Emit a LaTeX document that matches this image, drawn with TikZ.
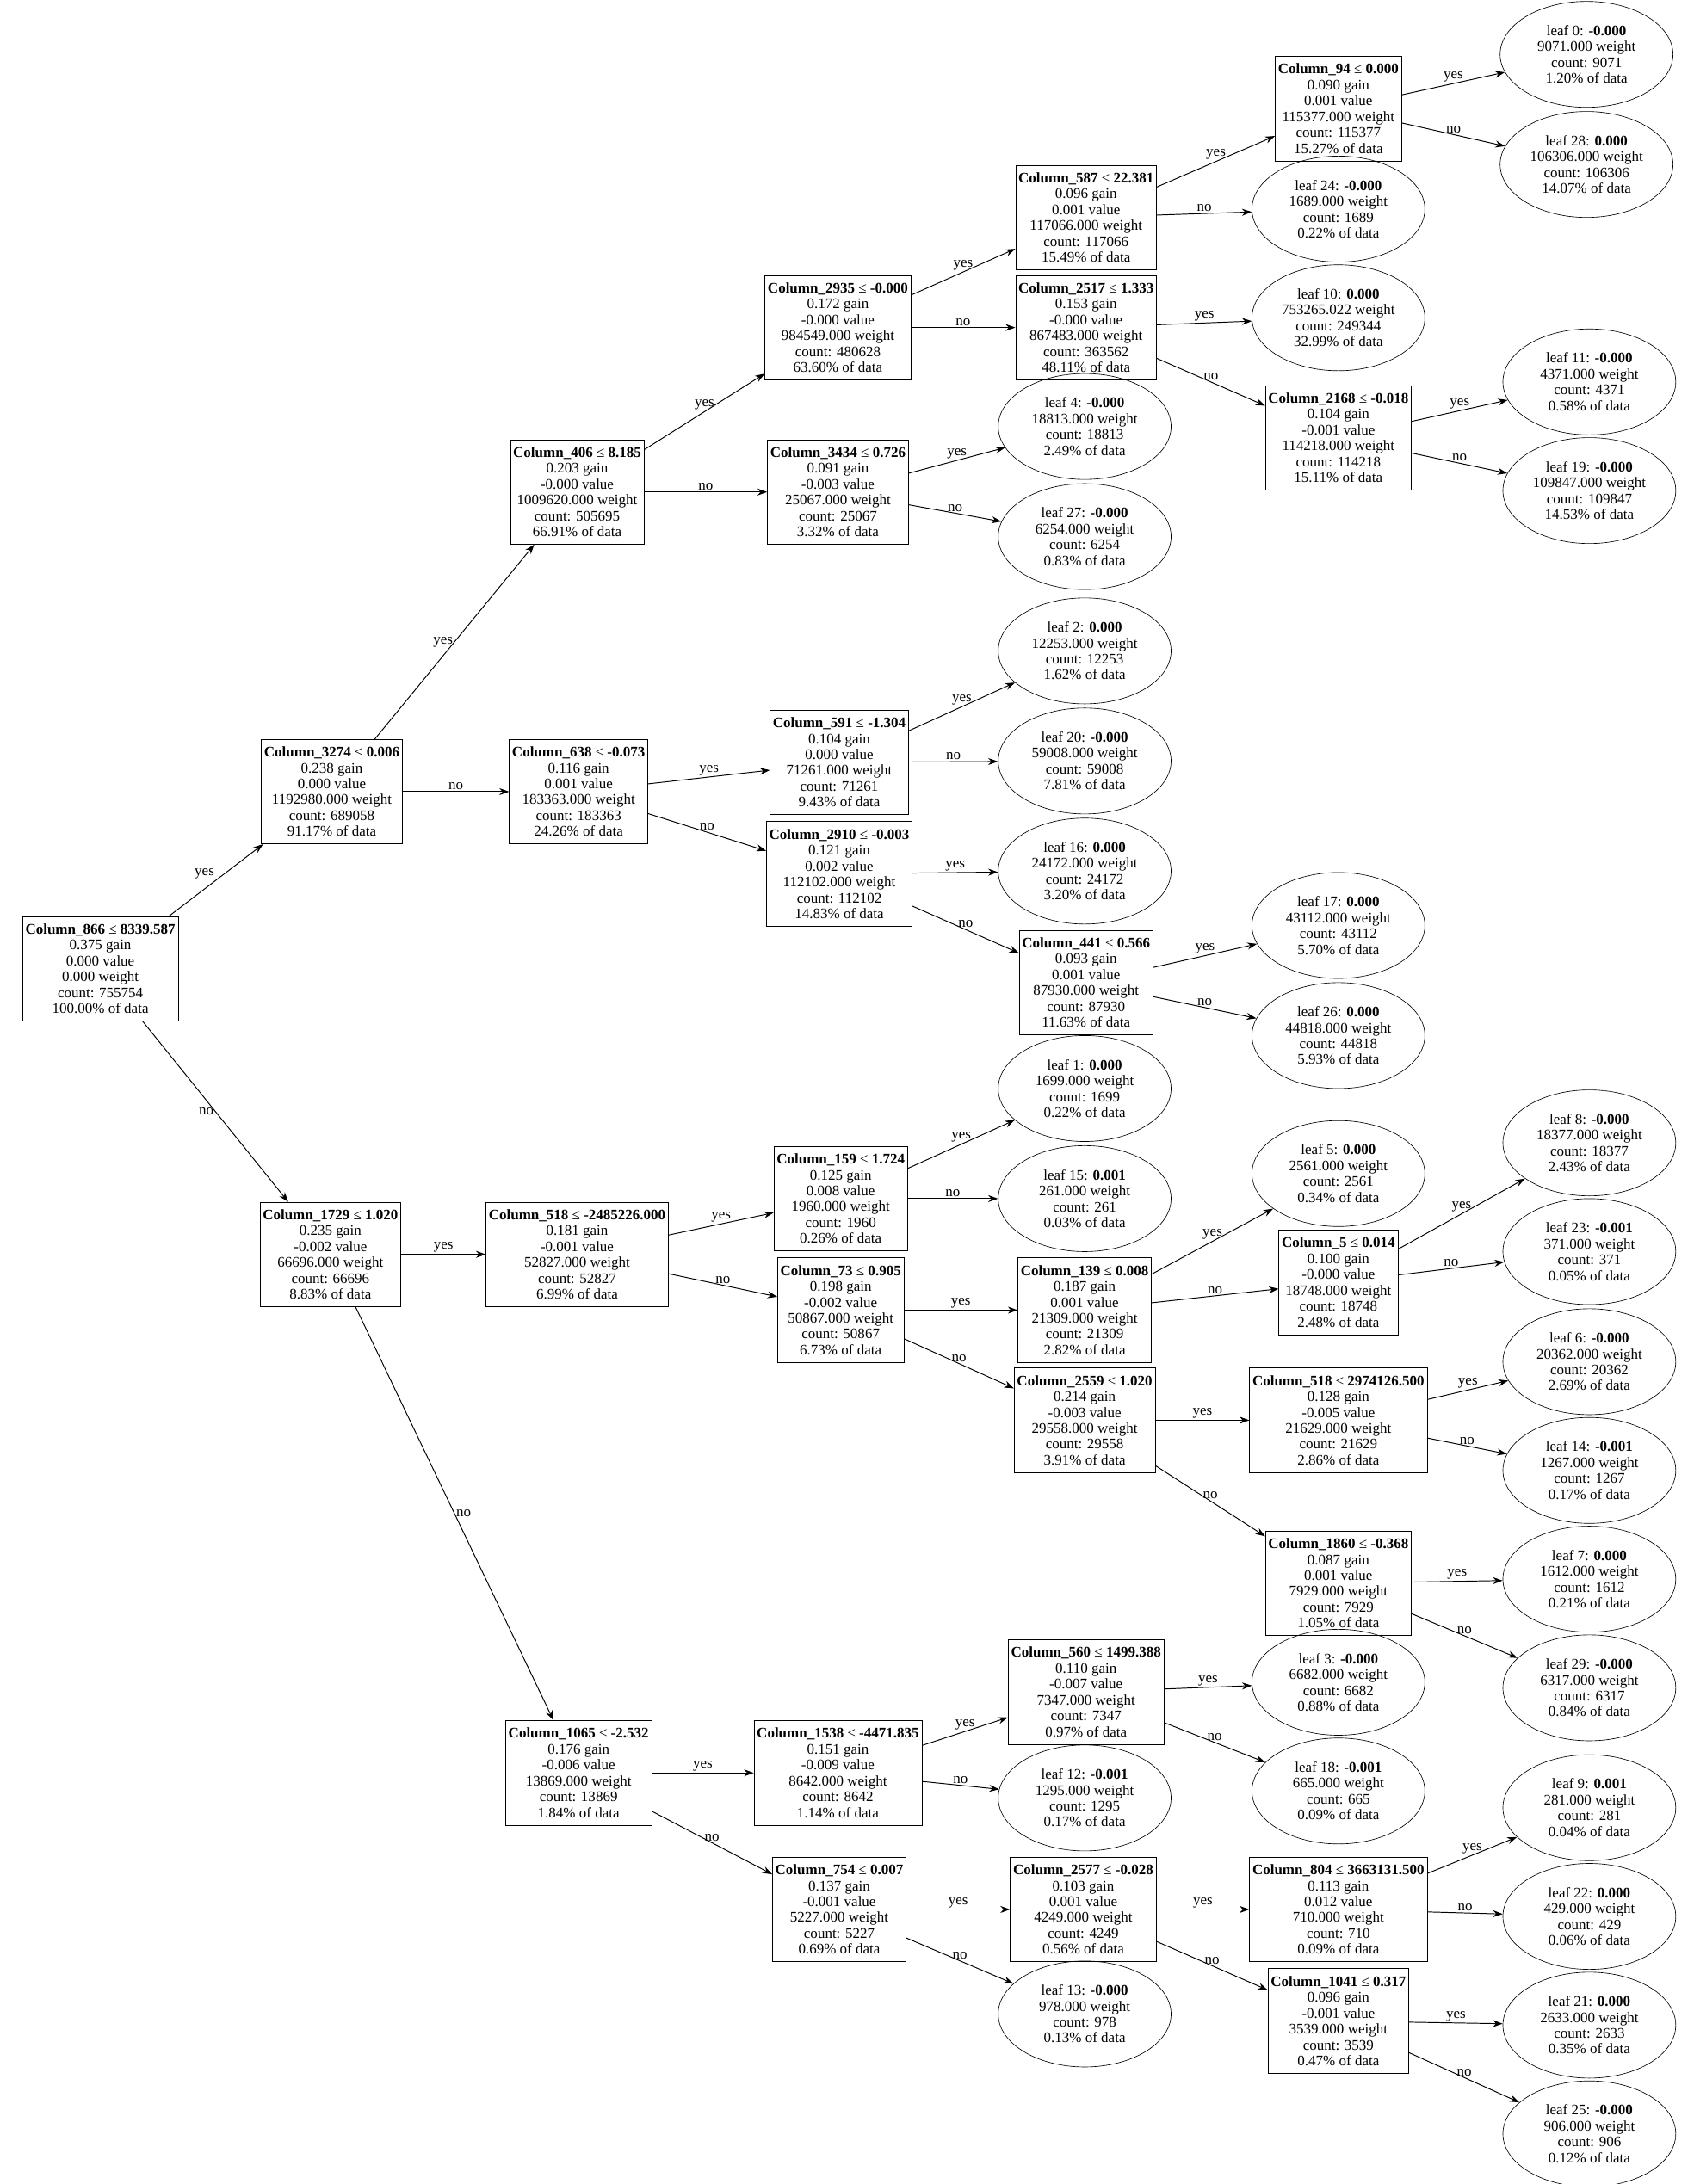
\documentclass[tikz,border=0pt]{standalone}
\usepackage{fontspec}
\setmainfont{Liberation Serif}
\usetikzlibrary{shapes.geometric,arrows.meta}
\tikzset{
 inn/.style={draw,rectangle,align=center,inner sep=2pt,minimum height=75pt,font=\fontsize{10.5}{11.4}\selectfont},
 lf/.style={draw,ellipse,align=center,inner sep=0pt,minimum width=124pt,minimum height=76pt,font=\fontsize{10.5}{11.4}\selectfont},
 ed/.style={-{Stealth[length=7pt,width=5pt]},line width=0.6pt},
 lbl/.style={font=\fontsize{10.5}{12}\selectfont,inner sep=1pt}
}
\newcommand\inode[9]{\node[inn] (#1) at (#2) {\textbf{Column\_#3} ≤ \textbf{#4}\\#5 gain\\#6 value\\#7 weight\\count: #8\\#9\% of data};}
\newcommand\lnode[7]{\node[lf] (#1) at (#2) {leaf #3: \textbf{#4}\\#5 weight\\count: #6\\#7\% of data};}
\newcommand\yn[3]{\draw[ed] (#1) -- (#2) node[lbl,midway,#3] {};}
\begin{document}
\begin{tikzpicture}[x=1pt,y=-1pt]
\useasboundingbox (0,0) rectangle (1215,1567);
\inode{R0}{72,695}{866}{8339.587}{0.375}{0.000}{0.000}{755754}{100.00}
\inode{A}{238,568}{3274}{0.006}{0.238}{0.000}{1192980.000}{689058}{91.17}
\inode{B}{414,353}{406}{8.185}{0.203}{-0.000}{1009620.000}{505695}{66.91}
\inode{C}{601,235}{2935}{-0.000}{0.172}{-0.000}{984549.000}{480628}{63.60}
\inode{D}{779,156}{587}{22.381}{0.096}{0.001}{117066.000}{117066}{15.49}
\inode{E}{960,78}{94}{0.000}{0.090}{0.001}{115377.000}{115377}{15.27}
\inode{F}{779,235}{2517}{1.333}{0.153}{-0.000}{867483.000}{363562}{48.11}
\inode{G}{960,314}{2168}{-0.018}{0.104}{-0.001}{114218.000}{114218}{15.11}
\inode{H}{601,353}{3434}{0.726}{0.091}{-0.003}{25067.000}{25067}{3.32}
\inode{I}{415,568}{638}{-0.073}{0.116}{0.001}{183363.000}{183363}{24.26}
\inode{J}{602,547}{591}{-1.304}{0.104}{0.000}{71261.000}{71261}{9.43}
\inode{K}{602,627}{2910}{-0.003}{0.121}{0.002}{112102.000}{112102}{14.83}
\inode{L}{779,705}{441}{0.566}{0.093}{0.001}{87930.000}{87930}{11.63}
\inode{M}{237,900}{1729}{1.020}{0.235}{-0.002}{66696.000}{66696}{8.83}
\inode{N}{414,900}{518}{-2485226.000}{0.181}{-0.001}{52827.000}{52827}{6.99}
\inode{O}{603,860}{159}{1.724}{0.125}{0.008}{1960.000}{1960}{0.26}
\inode{P}{603,940}{73}{0.905}{0.198}{-0.002}{50867.000}{50867}{6.73}
\inode{Q}{778,940}{139}{0.008}{0.187}{0.001}{21309.000}{21309}{2.82}
\inode{R}{960,920}{5}{0.014}{0.100}{-0.000}{18748.000}{18748}{2.48}
\inode{S}{778,1019}{2559}{1.020}{0.214}{-0.003}{29558.000}{29558}{3.91}
\inode{T}{960,1019}{518}{2974126.500}{0.128}{-0.005}{21629.000}{21629}{2.86}
\inode{U}{960,1136}{1860}{-0.368}{0.087}{0.001}{7929.000}{7929}{1.05}
\inode{V}{415,1272}{1065}{-2.532}{0.176}{-0.006}{13869.000}{13869}{1.84}
\inode{W}{601,1272}{1538}{-4471.835}{0.151}{-0.009}{8642.000}{8642}{1.14}
\inode{X}{779,1214}{560}{1499.388}{0.110}{-0.007}{7347.000}{7347}{0.97}
\inode{Y}{602,1370}{754}{0.007}{0.137}{-0.001}{5227.000}{5227}{0.69}
\inode{Z}{777,1370}{2577}{-0.028}{0.103}{0.001}{4249.000}{4249}{0.56}
\inode{AA}{960,1370}{804}{3663131.500}{0.113}{0.012}{710.000}{710}{0.09}
\inode{AB}{960,1450}{1041}{0.317}{0.096}{-0.001}{3539.000}{3539}{0.47}
\lnode{l0}{1138,39}{0}{-0.000}{9071.000}{9071}{1.20}
\lnode{l28}{1138,118}{28}{0.000}{106306.000}{106306}{14.07}
\lnode{l24}{960,150}{24}{-0.000}{1689.000}{1689}{0.22}
\lnode{l10}{960,228}{10}{0.000}{753265.022}{249344}{32.99}
\lnode{l11}{1140,274}{11}{-0.000}{4371.000}{4371}{0.58}
\lnode{l19}{1140,352}{19}{-0.000}{109847.000}{109847}{14.53}
\lnode{l4}{778,306}{4}{-0.000}{18813.000}{18813}{2.49}
\lnode{l27}{778,385}{27}{-0.000}{6254.000}{6254}{0.83}
\lnode{l2}{778,467}{2}{0.000}{12253.000}{12253}{1.62}
\lnode{l20}{778,546}{20}{-0.000}{59008.000}{59008}{7.81}
\lnode{l16}{778,625}{16}{0.000}{24172.000}{24172}{3.20}
\lnode{l17}{960,664}{17}{0.000}{43112.000}{43112}{5.70}
\lnode{l26}{960,743}{26}{0.000}{44818.000}{44818}{5.93}
\lnode{l1}{778,781}{1}{0.000}{1699.000}{1699}{0.22}
\lnode{l15}{778,860}{15}{0.001}{261.000}{261}{0.03}
\lnode{l5}{960,842}{5}{0.000}{2561.000}{2561}{0.34}
\lnode{l8}{1140,820}{8}{-0.000}{18377.000}{18377}{2.43}
\lnode{l23}{1140,898}{23}{-0.001}{371.000}{371}{0.05}
\lnode{l6}{1140,977}{6}{-0.000}{20362.000}{20362}{2.69}
\lnode{l14}{1140,1055}{14}{-0.001}{1267.000}{1267}{0.17}
\lnode{l7}{1140,1133}{7}{0.000}{1612.000}{1612}{0.21}
\lnode{l29}{1140,1211}{29}{-0.000}{6317.000}{6317}{0.84}
\lnode{l3}{960,1207}{3}{-0.000}{6682.000}{6682}{0.88}
\lnode{l18}{960,1285}{18}{-0.001}{665.000}{665}{0.09}
\lnode{l12}{778,1290}{12}{-0.001}{1295.000}{1295}{0.17}
\lnode{l13}{778,1445}{13}{-0.000}{978.000}{978}{0.13}
\lnode{l9}{1140,1297}{9}{0.001}{281.000}{281}{0.04}
\lnode{l22}{1140,1375}{22}{0.000}{429.000}{429}{0.06}
\lnode{l21}{1140,1453}{21}{0.000}{2633.000}{2633}{0.35}
\lnode{l25}{1140,1531}{25}{-0.000}{906.000}{906}{0.12}
\foreach \a/\b/\t/\p in {R0/A/yes/above left,R0/M/no/left,A/B/yes/left,A/I/no/above,
 B/C/yes/above,B/H/no/above,C/D/yes/above,C/F/no/above,D/E/yes/above,D/l24/no/above,
 E/l0/yes/above,E/l28/no/above,F/l10/yes/above,F/G/no/above,G/l11/yes/above,G/l19/no/above,
 H/l4/yes/above,H/l27/no/above,I/J/yes/above,I/K/no/above,J/l2/yes/above,J/l20/no/above,
 K/l16/yes/above,K/L/no/above,L/l17/yes/above,L/l26/no/above,M/N/yes/above,M/V/no/right,
 N/O/yes/above,N/P/no/above,O/l1/yes/above,O/l15/no/above,P/Q/yes/above,P/S/no/above,
 Q/l5/yes/above,Q/R/no/above,R/l8/yes/above,R/l23/no/above,S/T/yes/above,S/U/no/above,
 T/l6/yes/above,T/l14/no/above,U/l7/yes/above,U/l29/no/above,V/W/yes/above,V/Y/no/above,
 W/X/yes/above,W/l12/no/above,X/l3/yes/above,X/l18/no/above,Y/Z/yes/above,Y/l13/no/above,
 Z/AA/yes/above,Z/AB/no/above,AA/l9/yes/above,AA/l22/no/above,AB/l21/yes/above,AB/l25/no/above}
 {\draw[ed] (\a) -- (\b) node[lbl,midway,\p] {\t};}
\end{tikzpicture}
\end{document}
